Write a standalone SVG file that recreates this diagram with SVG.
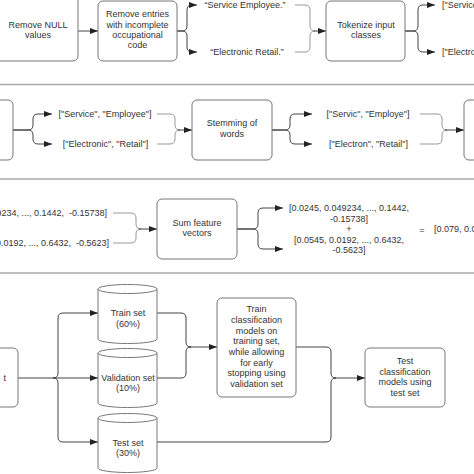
<svg xmlns="http://www.w3.org/2000/svg" width="474" height="474" viewBox="0 0 474 474">
<defs>
<marker id="ah" markerUnits="userSpaceOnUse" markerWidth="8" markerHeight="6" refX="8" refY="3" orient="auto"><path d="M0,0 L8,3 L0,6 z" fill="#222"/></marker>
<style>
text{font-family:"Liberation Sans",Arial,sans-serif;font-size:9px;fill:#333;white-space:pre}
.c{text-anchor:middle}
.e{text-anchor:end}
.box{fill:#fff;stroke:#777;stroke-width:1}
.sep{stroke:#aaa;stroke-width:1.5;fill:none}
.ln{fill:none;stroke:#444;stroke-width:1}
.lt{fill:none;stroke:#999;stroke-width:1}
.a{marker-end:url(#ah)}
</style>
</defs>
<rect width="474" height="474" fill="#fff"/>
<g id="separators">
<line class="sep" x1="0" y1="84.5" x2="474" y2="84.5"/>
<line class="sep" x1="0" y1="179" x2="474" y2="179"/>
<line class="sep" x1="0" y1="273" x2="474" y2="273"/>
</g>
<g id="connectors">
<!-- row 1 -->
<path class="ln a" d="M78,31 H98"/>
<path class="ln a" d="M177,31 H182 Q187,31 187,26 V10 Q187,5 192,5 H197"/>
<path class="ln a" d="M177,31 H182 Q187,31 187,36 V47 Q187,52 192,52 H197"/>
<path class="lt" d="M295,5 H305 Q310,5 310,10 V26 Q310,31 315,31"/>
<path class="lt" d="M295,52 H305 Q310,52 310,47 V36 Q310,31 315,31"/>
<path class="ln a" d="M314,31 H326"/>
<path class="ln a" d="M405,31 H413 Q418,31 418,26 V10 Q418,5 423,5 H435"/>
<path class="ln a" d="M405,31 H413 Q418,31 418,36 V47 Q418,52 423,52 H435"/>
<!-- row 2 -->
<path class="ln a" d="M13,130 H28 Q33,130 33,125 V119 Q33,114 38,114 H52"/>
<path class="ln a" d="M13,130 H28 Q33,130 33,135 V139 Q33,144 38,144 H52"/>
<path class="lt" d="M157,114 H170 Q175,114 175,119 V125 Q175,130 180,130"/>
<path class="lt" d="M157,144 H170 Q175,144 175,139 V135 Q175,130 180,130"/>
<path class="ln a" d="M178,130 H192"/>
<path class="ln a" d="M272,130 H285 Q290,130 290,125 V119 Q290,114 295,114 H312"/>
<path class="ln a" d="M272,130 H285 Q290,130 290,135 V139 Q290,144 295,144 H312"/>
<path class="lt" d="M420,114 H437 Q442,114 442,119 V125 Q442,130 447,130"/>
<path class="lt" d="M420,144 H437 Q442,144 442,139 V135 Q442,130 447,130"/>
<path class="ln a" d="M445,130 H464"/>
<!-- row 3 -->
<path class="lt" d="M113,213 H131 Q136,213 136,218 V224 Q136,229 141,229"/>
<path class="lt" d="M113,243 H131 Q136,243 136,238 V234 Q136,229 141,229"/>
<path class="ln a" d="M139,229 H157"/>
<path class="ln a" d="M237,229 H253 Q258,229 258,224 V213 Q258,208 263,208 H283"/>
<path class="ln a" d="M237,229 H253 Q258,229 258,234 V244 Q258,249 263,249 H283"/>
<!-- row 4 -->
<path class="ln a" d="M18,378 H98"/>
<path class="ln a" d="M53,378 Q58,378 58,373 V318 Q58,313 63,313 H98"/>
<path class="ln a" d="M53,378 Q58,378 58,383 V437 Q58,442 63,442 H98"/>
<path class="ln" d="M157,313 H181 Q186,313 186,318 V342 Q186,347 191,347"/>
<path class="ln" d="M157,378 H181 Q186,378 186,373 V352 Q186,347 191,347"/>
<path class="ln a" d="M189,347 H217"/>
<path class="ln" d="M296,347 H326 Q331,347 331,352 V373 Q331,378 336,378"/>
<path class="ln" d="M157,442 H326 Q331,442 331,437 V383 Q331,378 336,378"/>
<path class="ln a" d="M334,378 H365"/>
</g>
<g id="n-remove-null">
<rect class="box" x="-10" y="-10" width="88" height="71" rx="5"/>
<text class="c" x="38" y="27.7">Remove NULL</text>
<text class="c" x="38" y="38">values</text>
</g>
<g id="n-remove-entries">
<rect class="box" x="98" y="1" width="79" height="60" rx="5"/>
<text class="c" x="137.5" y="17.2">Remove entries</text>
<text class="c" x="137.5" y="27.6">with incomplete</text>
<text class="c" x="137.5" y="38">occupational</text>
<text class="c" x="137.5" y="48.4">code</text>
</g>
<g id="n-raw-texts">
<text class="c" x="245" y="8.2">“Service Employee.”</text>
<text class="c" x="247" y="55.4">“Electronic Retail.”</text>
</g>
<g id="n-tokenize">
<rect class="box" x="326" y="1" width="79" height="60" rx="5"/>
<text class="c" x="366" y="28">Tokenize input</text>
<text class="c" x="366" y="38.4">classes</text>
</g>
<g id="n-tokens-1">
<text x="442" y="8.2">["Service", "Employee"]</text>
<text x="442" y="55.4">["Electronic", "Retail"]</text>
</g>
<g id="n-prev-box-2">
<rect class="box" x="-70" y="100" width="83" height="60" rx="5"/>
</g>
<g id="n-tokens-2">
<text class="c" x="105" y="117.2">["Service", "Employee"]</text>
<text class="c" x="105.5" y="147.2">["Electronic", "Retail"]</text>
</g>
<g id="n-stemming">
<rect class="box" x="192" y="100" width="80" height="60" rx="5"/>
<text class="c" x="232" y="126.4">Stemming of</text>
<text class="c" x="232" y="136.8">words</text>
</g>
<g id="n-stems">
<text class="c" x="368" y="117.2">["Servic", "Employe"]</text>
<text class="c" x="368.5" y="147.2">["Electron", "Retail"]</text>
</g>
<g id="n-next-box-2">
<rect class="box" x="464" y="100" width="80" height="60" rx="5"/>
</g>
<g id="n-vectors-left">
<text class="e" x="107" y="216.2">[0.0245, 0.049234, ..., 0.1442,  -0.15738]</text>
<text class="e" x="109" y="246.2">[0.0545, 0.0192, ..., 0.6432,  -0.5623]</text>
</g>
<g id="n-sum">
<rect class="box" x="157" y="199" width="80" height="60" rx="5"/>
<text class="c" x="197" y="226">Sum feature</text>
<text class="c" x="197" y="236.4">vectors</text>
</g>
<g id="n-vectors-sum">
<text class="c" x="349" y="211.2">[0.0245, 0.049234, ..., 0.1442,</text>
<text class="c" x="349" y="221.7">-0.15738]</text>
<text class="c" x="349" y="232.2">+</text>
<text class="c" x="349" y="242.7">[0.0545, 0.0192, ..., 0.6432,</text>
<text class="c" x="349" y="253.2">-0.5623]</text>
<text class="c" x="422" y="233.2">=</text>
<text x="434" y="232.2">[0.079, 0.0</text>
</g>
<g id="n-split">
<rect class="box" x="-70" y="348" width="88" height="59" rx="5"/>
<text class="e" x="6" y="381">t</text>
</g>
<g id="n-train-set">
<path class="box" d="M98,289 A29.5,4.5 0 0 1 157,289 V339 A29.5,4.5 0 0 1 98,339 Z"/>
<path class="box" d="M98,289 A29.5,4.5 0 0 0 157,289" fill="none"/>
<text class="c" x="128" y="316">Train set</text>
<text class="c" x="128" y="326.5">(60%)</text>
</g>
<g id="n-validation-set">
<path class="box" d="M98,353 A29.5,4.5 0 0 1 157,353 V403 A29.5,4.5 0 0 1 98,403 Z"/>
<path class="box" d="M98,353 A29.5,4.5 0 0 0 157,353" fill="none"/>
<text class="c" x="128" y="380.8">Validation set</text>
<text class="c" x="128" y="391.3">(10%)</text>
</g>
<g id="n-test-set">
<path class="box" d="M98,418 A29.5,4.5 0 0 1 157,418 V468 A29.5,4.5 0 0 1 98,468 Z"/>
<path class="box" d="M98,418 A29.5,4.5 0 0 0 157,418" fill="none"/>
<text class="c" x="128" y="445.5">Test set</text>
<text class="c" x="128" y="456">(30%)</text>
</g>
<g id="n-train-models">
<rect class="box" x="217" y="298" width="79" height="99" rx="5"/>
<text class="c" x="256.5" y="312.2">Train</text>
<text class="c" x="256.5" y="322.9">classification</text>
<text class="c" x="256.5" y="333.6">models on</text>
<text class="c" x="256.5" y="344.3">training set,</text>
<text class="c" x="256.5" y="355">while allowing</text>
<text class="c" x="256.5" y="365.7">for early</text>
<text class="c" x="256.5" y="376.4">stopping using</text>
<text class="c" x="256.5" y="387.1">validation set</text>
</g>
<g id="n-test-models">
<rect class="box" x="365" y="348" width="80" height="59" rx="5"/>
<text class="c" x="405" y="363.9">Test</text>
<text class="c" x="405" y="374.6">classification</text>
<text class="c" x="405" y="385.3">models using</text>
<text class="c" x="405" y="396">test set</text>
</g>
</svg>
